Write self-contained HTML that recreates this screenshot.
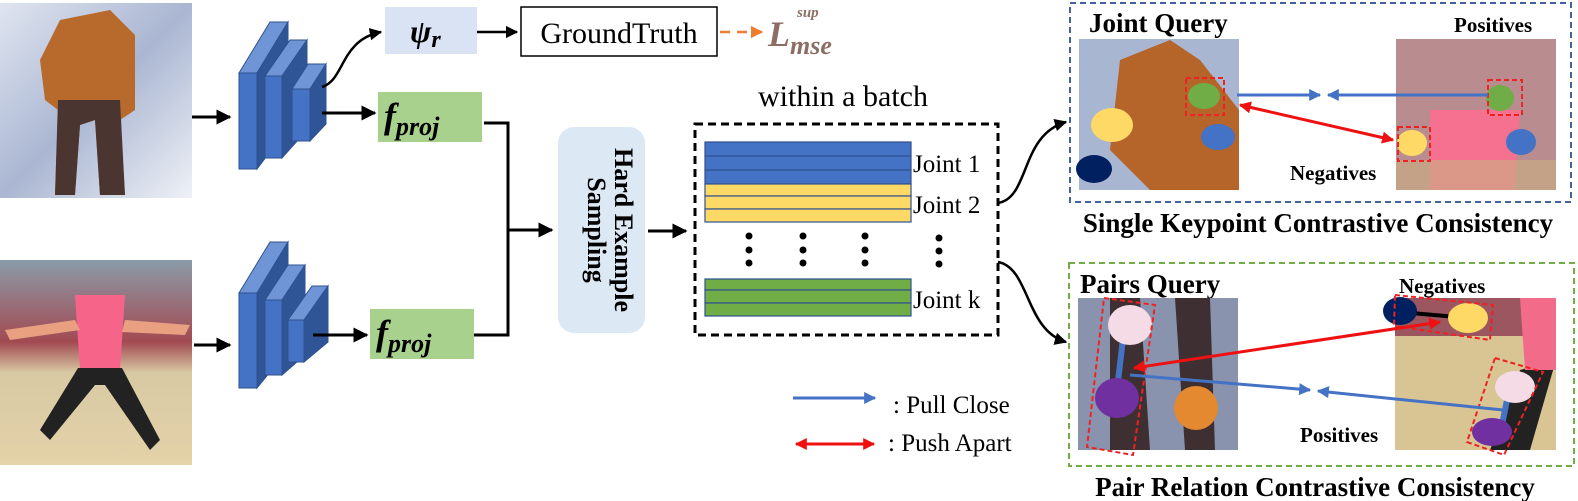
<!DOCTYPE html>
<html><head><meta charset="utf-8"><style>
body{margin:0;background:#fff}
svg{display:block}
text{font-family:"Liberation Serif",serif}
</style></head><body>
<svg width="1578" height="501" viewBox="0 0 1578 501" xmlns="http://www.w3.org/2000/svg">
<defs>
<marker id="ah" viewBox="0 0 10 10" refX="9" refY="5" markerWidth="5" markerHeight="5" orient="auto"><path d="M0,0L10,5L0,10z" fill="#000"/></marker>
<marker id="ab" viewBox="0 0 10 10" refX="9" refY="5" markerWidth="5" markerHeight="4" orient="auto"><path d="M0,0L10,5L0,10z" fill="#4472c4"/></marker>
<marker id="ar" viewBox="0 0 10 10" refX="9" refY="5" markerWidth="5" markerHeight="4" orient="auto-start-reverse"><path d="M0,0L10,5L0,10z" fill="#ee1111"/></marker>
<marker id="ao" viewBox="0 0 10 10" refX="9" refY="5" markerWidth="5" markerHeight="5" orient="auto"><path d="M0,0L10,5L0,10z" fill="#ed7d31"/></marker>
<linearGradient id="snow" x1="0" y1="0" x2="1" y2="1"><stop offset="0" stop-color="#dfe5f0"/><stop offset="0.5" stop-color="#aab6d2"/><stop offset="1" stop-color="#eef1f6"/></linearGradient>
<linearGradient id="gym" x1="0" y1="0" x2="0" y2="1"><stop offset="0" stop-color="#8a9ba8"/><stop offset="0.4" stop-color="#a24a52"/><stop offset="0.55" stop-color="#d8c9a4"/><stop offset="1" stop-color="#e4d2a8"/></linearGradient>
</defs>

<rect x="0" y="3" width="192" height="195" fill="url(#snow)"/>
<path d="M60,20 L110,10 L135,35 L135,110 L120,120 L125,195 L100,195 L95,120 L80,125 L75,195 L55,195 L58,110 L45,100 L40,60 Z" fill="#b86a2c"/>
<path d="M58,100 L120,100 L125,195 L100,195 L95,120 L80,125 L75,195 L55,195 Z" fill="#4a3530"/>
<rect x="0" y="260" width="192" height="205" fill="url(#gym)"/>
<path d="M75,295 L125,295 L120,370 L80,370 Z" fill="#f7648a"/>
<path d="M5,330 L75,320 L80,330 L10,340Z M125,320 L190,325 L185,335 L122,332Z" fill="#e8a080"/>
<path d="M78,368 L122,368 L160,440 L150,450 L105,385 L95,385 L50,440 L40,430 Z" fill="#222"/>
<line x1="192" y1="117" x2="230" y2="117" stroke="#000" stroke-width="3" marker-end="url(#ah)"/>
<line x1="194" y1="345" x2="230" y2="345" stroke="#000" stroke-width="3" marker-end="url(#ah)"/>

<g stroke="#2f528f" stroke-width="1">
<polygon points="239,73 257,73 288,22 270,22" fill="#6f95d6"/>
<polygon points="257,73 288,22 288,128 257,169" fill="#2f5597"/>
<rect x="239" y="73" width="18" height="96" fill="#4472c4"/>
<polygon points="265,76 282,76 307,40 290,40" fill="#6f95d6"/>
<polygon points="282,76 307,40 307,130 282,158" fill="#2f5597"/>
<rect x="265" y="76" width="17" height="82" fill="#4472c4"/>
<polygon points="292,89 310,89 326,64 308,64" fill="#6f95d6"/>
<polygon points="310,89 326,64 326,124 310,141" fill="#2f5597"/>
<rect x="292" y="89" width="18" height="52" fill="#4472c4"/>
</g>
<g stroke="#2f528f" stroke-width="1">
<polygon points="239,293 257,293 288,242 270,242" fill="#6f95d6"/>
<polygon points="257,293 288,242 288,350 257,388" fill="#2f5597"/>
<rect x="239" y="293" width="18" height="95" fill="#4472c4"/>
<polygon points="265,300 282,300 305,265 288,265" fill="#6f95d6"/>
<polygon points="282,300 305,265 305,355 282,375" fill="#2f5597"/>
<rect x="265" y="300" width="17" height="75" fill="#4472c4"/>
<polygon points="288,320 304,320 328,286 312,286" fill="#6f95d6"/>
<polygon points="304,320 328,286 328,342 304,362" fill="#2f5597"/>
<rect x="288" y="320" width="16" height="42" fill="#4472c4"/>
</g>

<path d="M322,87 C345,80 340,40 381,32" fill="none" stroke="#000" stroke-width="2.5" marker-end="url(#ah)"/>
<rect x="385" y="7" width="92" height="47" fill="#dae3f3"/>
<text x="410" y="42" font-size="32" font-weight="bold" font-style="italic">ψ<tspan font-size="24" dy="5">r</tspan></text>
<line x1="477" y1="32" x2="517" y2="32" stroke="#000" stroke-width="2.5" marker-end="url(#ah)"/>
<rect x="521" y="7" width="196" height="49" fill="#fff" stroke="#000" stroke-width="1.5"/>
<text x="619" y="43" font-size="30" text-anchor="middle">GroundTruth</text>
<line x1="720" y1="32" x2="762" y2="32" stroke="#ed7d31" stroke-width="2.5" stroke-dasharray="10,7" marker-end="url(#ao)"/>
<text x="768" y="46" font-size="36" font-weight="bold" font-style="italic" fill="#8c6e66">L</text>
<text x="790" y="54" font-size="26" font-weight="bold" font-style="italic" fill="#8c6e66">mse</text>
<text x="797" y="17" font-size="15" font-weight="bold" font-style="italic" fill="#8c6e66">sup</text>

<line x1="322" y1="113" x2="375" y2="113" stroke="#000" stroke-width="3" marker-end="url(#ah)"/>
<rect x="378" y="92" width="104" height="50" fill="#a9d18e"/>
<text x="384" y="128" font-size="36" font-weight="bold" font-style="italic">f<tspan font-size="26" dy="7">proj</tspan></text>
<line x1="313" y1="335" x2="367" y2="335" stroke="#000" stroke-width="3" marker-end="url(#ah)"/>
<rect x="370" y="309" width="104" height="50" fill="#a9d18e"/>
<text x="376" y="345" font-size="36" font-weight="bold" font-style="italic">f<tspan font-size="26" dy="7">proj</tspan></text>
<polyline points="484,123 508,123 508,335 474,335" fill="none" stroke="#000" stroke-width="3"/>
<line x1="508" y1="230" x2="552" y2="230" stroke="#000" stroke-width="3" marker-end="url(#ah)"/>

<rect x="558" y="127" width="87" height="206" rx="16" fill="#dde8f5"/>
<text transform="translate(609,230) rotate(90)" font-size="26" font-weight="bold" text-anchor="middle" dy="-6">Hard Example</text>
<text transform="translate(582,230) rotate(90)" font-size="26" font-weight="bold" text-anchor="middle" dy="-6">Sampling</text>
<line x1="648" y1="231" x2="686" y2="231" stroke="#000" stroke-width="3" marker-end="url(#ah)"/>

<text x="843" y="106" font-size="30" text-anchor="middle">within a batch</text>
<rect x="695" y="124" width="303" height="211" fill="none" stroke="#000" stroke-width="3" stroke-dasharray="8,5"/>
<g stroke="#2f528f" stroke-width="1.2">
<rect x="705" y="142" width="206" height="14" fill="#4472c4"/>
<rect x="705" y="156" width="206" height="14" fill="#4472c4"/>
<rect x="705" y="170" width="206" height="14" fill="#4472c4"/>
<rect x="705" y="184" width="206" height="12" fill="#ffd966"/>
<rect x="705" y="196" width="206" height="13" fill="#ffd966"/>
<rect x="705" y="209" width="206" height="13" fill="#ffd966"/>
<rect x="705" y="279" width="206" height="11" fill="#70ad47"/>
<rect x="705" y="290" width="206" height="13" fill="#70ad47"/>
<rect x="705" y="303" width="206" height="13" fill="#70ad47"/>
</g>
<text x="913" y="172" font-size="25">Joint 1</text>
<text x="913" y="213" font-size="25">Joint 2</text>
<text x="913" y="308" font-size="25">Joint k</text>
<g fill="#000">
<circle cx="749" cy="236" r="3.5"/><circle cx="749" cy="250" r="3.5"/><circle cx="749" cy="263" r="3.5"/>
<circle cx="803" cy="236" r="3.5"/><circle cx="803" cy="250" r="3.5"/><circle cx="803" cy="263" r="3.5"/>
<circle cx="865" cy="236" r="3.5"/><circle cx="865" cy="250" r="3.5"/><circle cx="865" cy="263" r="3.5"/>
<circle cx="939" cy="238" r="3.5"/><circle cx="939" cy="251" r="3.5"/><circle cx="939" cy="264" r="3.5"/>
</g>
<path d="M998,203 C1030,198 1020,135 1066,122" fill="none" stroke="#000" stroke-width="2.5" marker-end="url(#ah)"/>
<path d="M998,262 C1030,268 1025,330 1066,342" fill="none" stroke="#000" stroke-width="2.5" marker-end="url(#ah)"/>

<line x1="793" y1="398" x2="875" y2="398" stroke="#4472c4" stroke-width="3" marker-end="url(#ab)"/>
<text x="893" y="413" font-size="25">: Pull Close</text>
<line x1="796" y1="444" x2="874" y2="444" stroke="#ee1111" stroke-width="3" marker-start="url(#ar)" marker-end="url(#ar)"/>
<text x="888" y="451" font-size="25">: Push Apart</text>

<rect x="1070" y="3" width="501" height="199" fill="none" stroke="#44629e" stroke-width="2" stroke-dasharray="6,4"/>
<text x="1089" y="32" font-size="27" font-weight="bold">Joint Query</text>
<text x="1454" y="32" font-size="21" font-weight="bold">Positives</text>
<rect x="1079" y="39" width="160" height="151" fill="#a9b6d2"/>
<path d="M1120,60 L1170,40 L1200,60 L1239,110 L1239,190 L1150,190 L1110,150 Z" fill="#b5652a"/>
<rect x="1396" y="39" width="160" height="151" fill="#b98c90"/>
<path d="M1430,110 L1520,110 L1515,190 L1430,190 Z" fill="#f6708f"/>
<rect x="1396" y="160" width="160" height="30" fill="#c9b183" opacity="0.6"/>
<ellipse cx="1204" cy="96" rx="16" ry="13" fill="#70ad47"/>
<rect x="1186" y="78" width="38" height="37" fill="none" stroke="#e22" stroke-width="2" stroke-dasharray="5,3"/>
<ellipse cx="1112" cy="125" rx="21" ry="17" fill="#ffd966"/>
<ellipse cx="1218" cy="137" rx="17" ry="13" fill="#4472c4"/>
<ellipse cx="1094" cy="169" rx="18" ry="14" fill="#002060"/>
<ellipse cx="1500" cy="98" rx="14" ry="13" fill="#70ad47"/>
<rect x="1488" y="80" width="34" height="35" fill="none" stroke="#e22" stroke-width="2" stroke-dasharray="5,3"/>
<ellipse cx="1412" cy="143" rx="15" ry="13" fill="#ffd966"/>
<rect x="1398" y="127" width="32" height="34" fill="none" stroke="#e22" stroke-width="2" stroke-dasharray="5,3"/>
<ellipse cx="1521" cy="142" rx="15" ry="13" fill="#4472c4"/>
<line x1="1237" y1="95" x2="1320" y2="95" stroke="#4472c4" stroke-width="3" marker-end="url(#ab)"/>
<line x1="1488" y1="95" x2="1328" y2="95" stroke="#4472c4" stroke-width="3" marker-end="url(#ab)"/>
<line x1="1240" y1="105" x2="1393" y2="140" stroke="#ee1111" stroke-width="3" marker-start="url(#ar)" marker-end="url(#ar)"/>
<text x="1290" y="180" font-size="21" font-weight="bold">Negatives</text>
<text x="1318" y="232" font-size="27" font-weight="bold" text-anchor="middle">Single Keypoint Contrastive Consistency</text>

<rect x="1069" y="263" width="505" height="203" fill="none" stroke="#70ad47" stroke-width="2" stroke-dasharray="6,4"/>
<text x="1080" y="293" font-size="27" font-weight="bold">Pairs Query</text>
<text x="1399" y="293" font-size="21" font-weight="bold">Negatives</text>
<rect x="1078" y="298" width="160" height="152" fill="#8a93ad"/>
<path d="M1110,298 L1140,298 L1150,450 L1110,450 Z" fill="#3e3032"/>
<path d="M1175,298 L1210,298 L1215,450 L1185,450 Z" fill="#3e3032"/>
<rect x="1395" y="298" width="161" height="152" fill="#d9c594"/>
<rect x="1395" y="298" width="161" height="38" fill="#9b5660"/>
<path d="M1520,370 L1556,360 L1530,450 L1490,450 Z" fill="#222"/>
<path d="M1520,298 L1556,298 L1556,370 L1525,370 Z" fill="#f26c8a"/>
<line x1="1124" y1="330" x2="1117" y2="390" stroke="#4472c4" stroke-width="6"/>
<ellipse cx="1130" cy="325" rx="22" ry="20" fill="#f5dbe5"/>
<ellipse cx="1117" cy="398" rx="22" ry="20" fill="#7030a0"/>
<ellipse cx="1196" cy="408" rx="22" ry="22" fill="#e4892f"/>
<polygon points="1104,298 1155,305 1133,455 1087,447" fill="none" stroke="#e22" stroke-width="2" stroke-dasharray="5,3"/>
<line x1="1400" y1="312" x2="1468" y2="318" stroke="#000" stroke-width="4"/>
<ellipse cx="1400" cy="311" rx="17" ry="14" fill="#002060"/>
<ellipse cx="1468" cy="318" rx="20" ry="15" fill="#ffd966"/>
<polygon points="1395,295 1493,305 1490,340 1394,326" fill="none" stroke="#e22" stroke-width="2" stroke-dasharray="5,3"/>
<line x1="1509" y1="390" x2="1501" y2="430" stroke="#4472c4" stroke-width="6"/>
<ellipse cx="1515" cy="387" rx="20" ry="16" fill="#f5dbe5"/>
<ellipse cx="1492" cy="432" rx="20" ry="14" fill="#7030a0"/>
<polygon points="1495,358 1543,372 1504,455 1467,442" fill="none" stroke="#e22" stroke-width="2" stroke-dasharray="5,3"/>
<line x1="1440" y1="322" x2="1134" y2="368" stroke="#ee1111" stroke-width="3" marker-start="url(#ar)" marker-end="url(#ar)"/>
<line x1="1130" y1="375" x2="1310" y2="390" stroke="#4472c4" stroke-width="3" marker-end="url(#ab)"/>
<line x1="1503" y1="410" x2="1318" y2="391" stroke="#4472c4" stroke-width="3" marker-end="url(#ab)"/>
<text x="1300" y="442" font-size="21" font-weight="bold">Positives</text>
<text x="1315" y="496" font-size="27" font-weight="bold" text-anchor="middle">Pair Relation Contrastive Consistency</text>
</svg>
</body></html>
